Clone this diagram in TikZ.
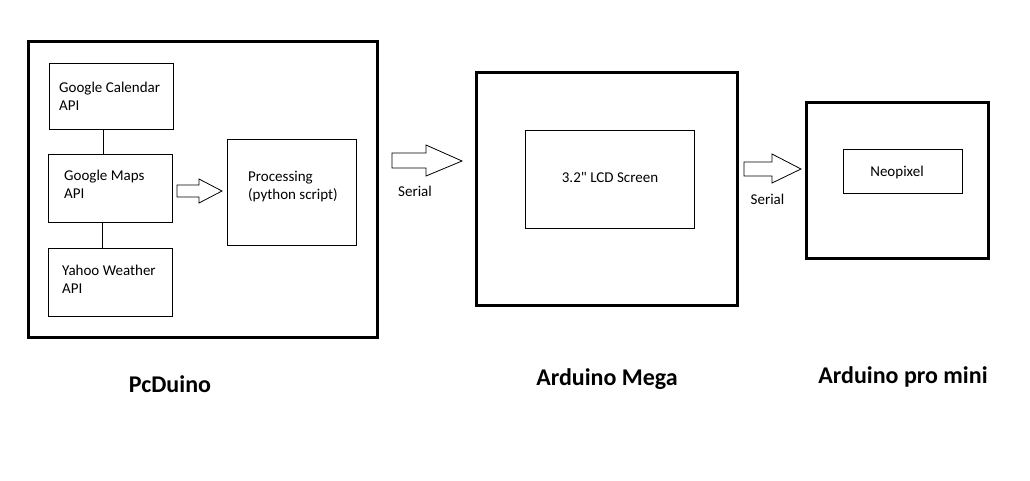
\documentclass[tikz,border=0pt]{standalone}
\usepackage{fontspec}
\setmainfont{Carlito}
\newfontfamily\rawfont{Carlito}
\usepackage{tikz}
\usetikzlibrary{calc}
\tikzset{
  bigbox/.style={draw,line width=3pt,minimum width=#1},
  smallbox/.style={draw,line width=0.9pt},
  txt/.style={anchor=west,align=left,inner sep=0pt,font=\fontsize{15}{18}\selectfont},
  ctxt/.style={inner sep=0pt,font=\fontsize{15}{18}\selectfont},
  title/.style={inner sep=0pt,font=\fontsize{24}{28}\selectfont\bfseries},
  blockarrow/.style={draw,line width=0.8pt,line join=miter}
}
\begin{document}
\begin{tikzpicture}[x=1pt,y=-1pt]
\useasboundingbox (0,0) rectangle (1030,480);
% PcDuino
\node[bigbox=349,minimum height=296] (pcduino) at (202.5,189) {};
\node[smallbox,minimum width=124,minimum height=66] (cal) at (111,96) {};
\node[smallbox,minimum width=124,minimum height=68] (maps) at (110,188) {};
\node[smallbox,minimum width=124,minimum height=68] (yahoo) at (110,282) {};
\node[smallbox,minimum width=129,minimum height=106] (proc) at (291.5,192) {};
\node[txt] (caltxt) at (59,96) {Google Calendar\\API};
\node[txt] (mapstxt) at (64,184.5) {Google Maps\\API};
\node[txt] (yahootxt) at (62,279) {Yahoo Weather\\API};
\node[txt] (proctxt) at (248,187) {Processing\\(python script)};
\draw[line width=0.9pt] ([xshift=-8pt]cal.south) -- ([xshift=-7pt]maps.north);
\draw[line width=0.9pt] ([xshift=-8pt]maps.south) -- ([xshift=-8pt]yahoo.north);
\draw[blockarrow] (177,185) -- (199,185) -- (199,179) -- (222,191) -- (199,203) -- (199,197) -- (177,197) -- cycle;
% Arduino Mega
\node[bigbox=261,minimum height=233] (mega) at (606.5,188.5) {};
\node[smallbox,minimum width=169,minimum height=98] (lcd) at (609.5,179) {};
\node[ctxt] (lcdtxt) at (610,177.5) {\rawfont 3.2" LCD Screen};
\draw[blockarrow] (392,153) -- (426,153) -- (426,145) -- (462,161) -- (426,176) -- (426,168) -- (392,168) -- cycle;
\node[ctxt] (serial1) at (415,191.5) {Serial};
% Arduino pro mini
\node[bigbox=182,minimum height=156] (promini) at (897,180) {};
\node[smallbox,minimum width=119,minimum height=44] (neo) at (902.5,171) {};
\node[ctxt] (neotxt) at (897,172) {Neopixel};
\draw[blockarrow] (744,162) -- (772,162) -- (772,154) -- (801,169) -- (772,183) -- (772,176) -- (744,176) -- cycle;
\node[ctxt] (serial2) at (767.5,199.5) {Serial};
% labels
\node[title] (pclabel) at (170,384) {PcDuino};
\node[title] (megalabel) at (607,379) {Arduino Mega};
\node[title] (minilabel) at (903,377) {Arduino pro mini};
\end{tikzpicture}
\end{document}
